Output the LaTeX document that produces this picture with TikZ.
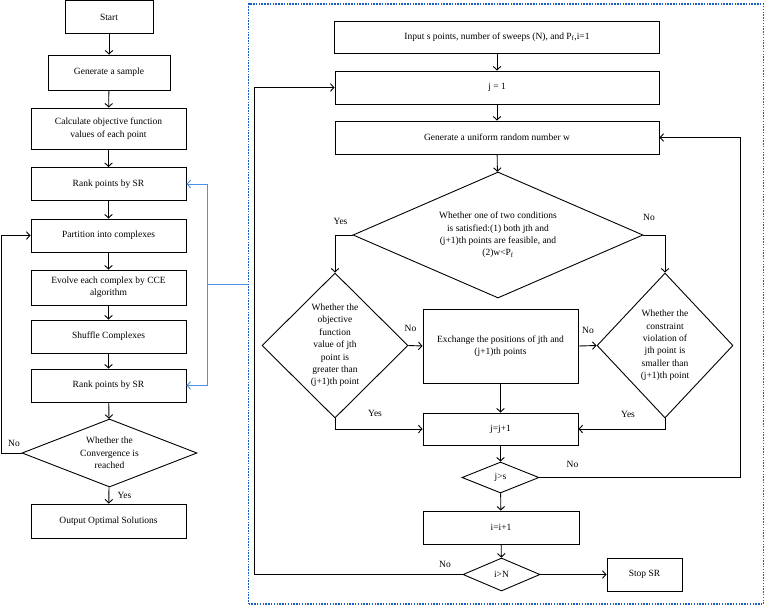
\documentclass[tikz,border=0pt]{standalone}
\usepackage{fontspec}
\setmainfont{Liberation Serif}
\usetikzlibrary{shapes.geometric,arrows.meta}

\definecolor{srblue}{RGB}{25,95,195}
\definecolor{linkblue}{RGB}{75,145,235}

\begin{document}
\begin{tikzpicture}[x=1pt,y=-1pt,
    font=\fontsize{9.5}{12.4}\selectfont,
    >={Straight Barb[length=3.5pt,width=7.5pt]},
    box/.style={draw, line width=0.9pt, align=center, inner sep=0pt},
    decision/.style={draw, diamond, line width=0.9pt, align=center, inner sep=0pt},
    flow/.style={->, line width=0.9pt},
    lbl/.style={inner sep=0pt}]
            \useasboundingbox (0,0) rectangle (768,606);

            % left column
            \node[box, minimum width=88pt, minimum height=33pt] (start) at (109,17) {Start};
            \node[box, minimum width=122pt, minimum height=35pt] (sample) at (109,72.5) {Generate a sample};
            \node[box, minimum width=155pt, minimum height=41pt] (calc) at (108.5,128.5) {Calculate objective function\\values of each point};
            \node[box, minimum width=155pt, minimum height=33pt] (rankA) at (108.5,184) {Rank points by SR};
            \node[box, minimum width=155pt, minimum height=33pt] (part) at (108.5,235.5) {Partition into complexes};
            \node[box, minimum width=155pt, minimum height=35pt] (evolve) at (108.5,287.5) {Evolve each complex by CCE\\algorithm};
            \node[box, minimum width=155pt, minimum height=33pt] (shuffle) at (108.5,336.5) {Shuffle Complexes};
            \node[box, minimum width=155pt, minimum height=33pt] (rankB) at (108.5,385.5) {Rank points by SR};
            \node[decision, shape aspect=2.57, minimum width=175pt, minimum height=68pt] (conv) at (109.5,453) {Whether the\\Convergence is\\reached};
            \node[box, minimum width=155pt, minimum height=34pt] (output) at (108.5,521) {Output Optimal Solutions};
            \coordinate (leftloop) at (1.5,0);

            \draw[flow] (start) -- (sample);
            \draw[flow] (sample) -- (calc);
            \draw[flow] (calc) -- (rankA);
            \draw[flow] (rankA) -- (part);
            \draw[flow] (part) -- (evolve);
            \draw[flow] (evolve) -- (shuffle);
            \draw[flow] (shuffle) -- (rankB);
            \draw[flow] (rankB) -- (conv);
            \draw[flow] (conv) -- (output);
            \draw[flow] (conv.west) -- (conv.west -| leftloop) |- (part.west);
            \node[lbl] (convno) at (14,443) {No};
            \node[lbl] (convyes) at (124.5,495) {Yes};

            % SR procedure
            \node[draw=srblue, line width=1.8pt, dash pattern=on 1.5pt off 1.3pt, minimum width=515pt, minimum height=600pt, inner sep=0pt] (srbox) at (506,304) {};
            \coordinate (hub) at (207,284);
            \draw[linkblue, line width=0.9pt] (srbox.west |- hub) -- (hub);
            \draw[linkblue, flow] (hub) |- (rankA.east);
            \draw[linkblue, flow] (hub) |- (rankB.east);

            \node[box, minimum width=325pt, minimum height=32pt] (input) at (497,37) {Input s points, number of sweeps (N), and P\textsubscript{f},i=1};
            \node[box, minimum width=324pt, minimum height=33pt] (jone) at (497,87.5) {j = 1};
            \node[box, minimum width=324pt, minimum height=33pt] (gen) at (497,137.5) {Generate a uniform random number w};
            \node[decision, shape aspect=2.3, minimum width=290pt, minimum height=126pt] (cond) at (498,235) {Whether one of two conditions\\is satisfied:(1) both jth and\\(j+1)th points are feasible, and\\(2)w\textless P\textsubscript{f}};
            \node[decision, minimum width=146pt, minimum height=145pt] (objd) at (335,345.5) {Whether the\\objective\\function\\value of jth\\point is\\greater than\\(j+1)th point};
            \node[box, minimum width=155pt, minimum height=74pt] (swap) at (500.5,346) {Exchange the positions of jth and\\(j+1)th points};
            \node[decision, minimum width=136pt, minimum height=145pt] (cond2) at (665,345.5) {Whether the\\constraint\\violation of\\jth point is\\smaller than\\(j+1)th point};
            \node[box, minimum width=155pt, minimum height=32pt] (jinc) at (500.5,429) {j=j+1};
            \node[decision, shape aspect=2.5, minimum width=77pt, minimum height=31pt] (jtest) at (500.5,477.5) {j\textgreater s};
            \node[box, minimum width=156pt, minimum height=33pt] (iinc) at (501,527.5) {i=i+1};
            \node[decision, shape aspect=2.3, minimum width=77pt, minimum height=33pt] (itest) at (501.5,574.5) {i\textgreater N};
            \node[box, minimum width=75pt, minimum height=33pt] (stop) at (644.5,574.5) {Stop SR};
            \coordinate (rightrail) at (740,0);
            \coordinate (leftrail) at (254,0);

            \draw[flow] (input) -- (jone);
            \draw[flow] (jone) -- (gen);
            \draw[flow] (gen) -- (cond);
            \draw[flow] (cond.west) -| (objd.north);
            \draw[flow] (cond.east) -| (cond2.north);
            \draw[flow] (objd.east) -- (swap.west);
            \draw[flow] (swap.east) -- (cond2.west);
            \draw[flow] (objd.south) |- (jinc.west);
            \draw[flow] (cond2.south) |- (jinc.east);
            \draw[flow] (swap) -- (jinc);
            \draw[flow] (jinc) -- (jtest);
            \draw[flow] (jtest) -- (iinc);
            \draw[flow] (iinc) -- (itest);
            \draw[flow] (itest) -- (stop);
            \draw[flow] (jtest.east) -- (jtest.east -| rightrail) |- (gen.east);
            \draw[flow] (itest.west) -- (itest.west -| leftrail) |- (jone.west);

            \node[lbl] (condyes) at (340.5,221) {Yes};
            \node[lbl] (condno) at (649,217) {No};
            \node[lbl] (objno) at (410.5,328) {No};
            \node[lbl] (swapno) at (588,330) {No};
            \node[lbl] (objyes) at (375,413.5) {Yes};
            \node[lbl] (consyes) at (628,414.5) {Yes};
            \node[lbl] (jno) at (572.5,464.5) {No};
            \node[lbl] (ino) at (445,564.5) {No};
        \end{tikzpicture}
\end{document}
